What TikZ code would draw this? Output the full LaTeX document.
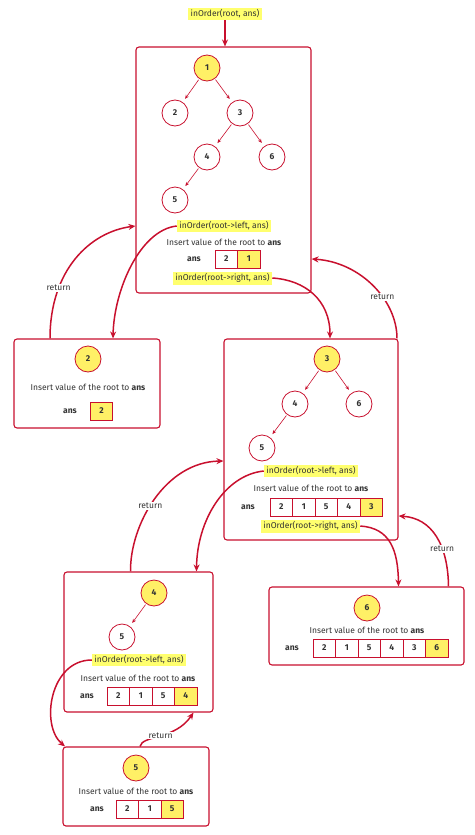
\documentclass[tikz,border=0pt]{standalone}
\usepackage{fontspec}
\setmainfont{Fira Sans}
\usetikzlibrary{arrows.meta,calc}
\definecolor{rd}{HTML}{C8102E}
\definecolor{cyel}{HTML}{FFF066}
\definecolor{hyel}{HTML}{FFFF6E}
\definecolor{txt}{HTML}{333333}
\begin{document}
\begin{tikzpicture}[x=1pt,y=-1pt,
 every node/.style={text=txt, font=\fontsize{8.5}{10}\selectfont},
 frame/.style={draw=rd, line width=1.1pt, rounded corners=3pt, inner sep=0},
 tnode/.style={circle, draw=rd, line width=0.8pt, fill=white, minimum size=26pt, inner sep=0, font=\fontsize{8.5}{10}\selectfont\bfseries},
 cur/.style={tnode, fill=cyel},
 hl/.style={fill=hyel, inner xsep=2.5pt, inner ysep=2pt},
 cell/.style={draw=rd, line width=0.8pt, minimum width=22.5pt, minimum height=18pt, inner sep=0, font=\fontsize{8.5}{10}\selectfont\bfseries},
 ycell/.style={cell, fill=cyel},
 anslbl/.style={font=\fontsize{8.5}{10}\selectfont\bfseries},
 tarrow/.style={-{Stealth[length=4pt,width=3.5pt]}, draw=rd, line width=0.6pt, shorten >=4pt, shorten <=1pt},
 flow/.style={-{Stealth[length=7pt,width=6pt]}, draw=rd, line width=1.5pt},
 lbl/.style={fill=white, inner sep=1pt}
]
\useasboundingbox (0,0) rectangle (474,835);

% frames
\node[frame, minimum width=175pt, minimum height=246pt] (b1) at (223.5,170) {};
\node[frame, minimum width=146pt, minimum height=89pt] (b2) at (87,383.5) {};
\node[frame, minimum width=174pt, minimum height=201pt] (b3) at (311,439.5) {};
\node[frame, minimum width=149pt, minimum height=140pt] (b4) at (138.5,642) {};
\node[frame, minimum width=146pt, minimum height=79pt] (b5) at (136,786.5) {};
\node[frame, minimum width=195pt, minimum height=78pt] (b6) at (366.5,626) {};

% top call
\node[hl] (top) at (225,14) {inOrder(root, ans)};
\draw[flow] (top.south) -- (top.south |- b1.north);

% ---- box 1 ----
\node[cur] (a1) at (207,68) {1};
\node[tnode] (a2) at (175,113) {2};
\node[tnode] (a3) at (240,113) {3};
\node[tnode] (a4) at (207,157) {4};
\node[tnode] (a6) at (272,157) {6};
\node[tnode] (a5) at (175,200) {5};
\draw[tarrow] (a1) -- (a2);
\draw[tarrow] (a1) -- (a3);
\draw[tarrow] (a3) -- (a4);
\draw[tarrow] (a3) -- (a6);
\draw[tarrow] (a4) -- (a5);
\node[hl] (l1) at (224,226) {inOrder(root->left, ans)};
\node (i1) at (224,242) {Insert value of the root to \textbf{ans}};
\node[anslbl] (s1) at (194,259) {ans};
\node[cell] (c11) at (226.25,259) {2};
\node[ycell] (c12) at (248.75,259) {1};
\node[hl] (r1) at (222.5,278) {inOrder(root->right, ans)};

% ---- box 2 ----
\node[cur] (d2) at (88,359) {2};
\node (i2) at (88,387) {Insert value of the root to \textbf{ans}};
\node[anslbl] (s2) at (70,411) {ans};
\node[ycell] (c21) at (101.5,411) {2};

% ---- box 3 ----
\node[cur] (e3) at (327,359) {3};
\node[tnode] (e4) at (295,404) {4};
\node[tnode] (e6) at (359,404) {6};
\node[tnode] (e5) at (262,448) {5};
\draw[tarrow] (e3) -- (e4);
\draw[tarrow] (e3) -- (e6);
\draw[tarrow] (e4) -- (e5);
\node[hl] (l3) at (311,471) {inOrder(root->left, ans)};
\node (i3) at (311,488) {Insert value of the root to \textbf{ans}};
\node[anslbl] (s3) at (248,507) {ans};
\node[cell] (c31) at (281.25,507) {2};
\node[cell] (c32) at (303.75,507) {1};
\node[cell] (c33) at (326.25,507) {5};
\node[cell] (c34) at (348.75,507) {4};
\node[ycell] (c35) at (371.25,507) {3};
\node[hl] (r3) at (310.5,526) {inOrder(root->right, ans)};

% ---- box 4 ----
\node[cur] (f4) at (154,593) {4};
\node[tnode] (f5) at (122,637) {5};
\draw[tarrow] (f4) -- (f5);
\node[hl] (l4) at (139,660) {inOrder(root->left, ans)};
\node (i4) at (138,678) {Insert value of the root to \textbf{ans}};
\node[anslbl] (s4) at (87,696) {ans};
\node[cell] (c41) at (118.25,696) {2};
\node[cell] (c42) at (140.75,696) {1};
\node[cell] (c43) at (163.25,696) {5};
\node[ycell] (c44) at (185.75,696) {4};

% ---- box 5 ----
\node[cur] (g5) at (136,768) {5};
\node (i5) at (136,791) {Insert value of the root to \textbf{ans}};
\node[anslbl] (s5) at (97,809) {ans};
\node[cell] (c51) at (127.25,809) {2};
\node[cell] (c52) at (149.75,809) {1};
\node[ycell] (c53) at (172.25,809) {5};

% ---- box 6 ----
\node[cur] (h6) at (367,608) {6};
\node (i6) at (367,630) {Insert value of the root to \textbf{ans}};
\node[anslbl] (s6) at (292,648) {ans};
\node[cell] (c61) at (324.25,648) {2};
\node[cell] (c62) at (346.75,648) {1};
\node[cell] (c63) at (369.25,648) {5};
\node[cell] (c64) at (391.75,648) {4};
\node[cell] (c65) at (414.25,648) {3};
\node[ycell] (c66) at (436.75,648) {6};

% ---- connectors ----
\coordinate (p2in) at ([xshift=26pt]b2.north);
\draw[flow] (l1.west) .. controls (140,230) and (114,290) .. (p2in);
\coordinate (p2out) at ([xshift=-37pt]b2.north);
\draw[flow] (p2out) .. controls (50,270) and (90,232) .. (b1.west |- l1)
  node[lbl, pos=0.28] {return};

\coordinate (p3in) at ([xshift=19pt]b3.north);
\draw[flow] (r1.east) .. controls (305,280) and (330,300) .. (p3in);
\coordinate (p3out) at ([xshift=86pt]b3.north);
\draw[flow] (p3out) .. controls (397,300) and (360,262) .. (b1.east |- c11)
  node[lbl, pos=0.38] {return};

\coordinate (p4in) at ([xshift=58pt]b4.north);
\draw[flow] (l3.west) .. controls (225,475) and (197,520) .. (p4in);
\coordinate (p4out) at ([xshift=-8pt]b4.north);
\coordinate (q3w) at ([yshift=10pt]b3.west |- l3);
\draw[flow] (p4out) .. controls (130,525) and (165,462) .. (q3w)
  node[lbl, pos=0.45] {return};

\coordinate (p6in) at ([xshift=32pt]b6.north);
\draw[flow] (r3.east) .. controls (390,528) and (398,550) .. (p6in);
\coordinate (p6out) at ([xshift=82pt]b6.north);
\coordinate (q3e) at ([yshift=-9pt]b3.east |- c35);
\draw[flow] (p6out) .. controls (448,545) and (432,518) .. (q3e)
  node[lbl, pos=0.35] {return};

\coordinate (p5in) at ([xshift=-71pt]b5.north);
\draw[flow] (l4.west) .. controls (50,660) and (40,725) .. (p5in);
\coordinate (p5out) at ([xshift=4pt]b5.north);
\coordinate (q4s) at ([xshift=55pt]b4.south);
\draw[flow] (p5out) .. controls (142,735) and (175,740) .. (q4s)
  node[lbl, pos=0.5] {return};
\end{tikzpicture}
\end{document}
